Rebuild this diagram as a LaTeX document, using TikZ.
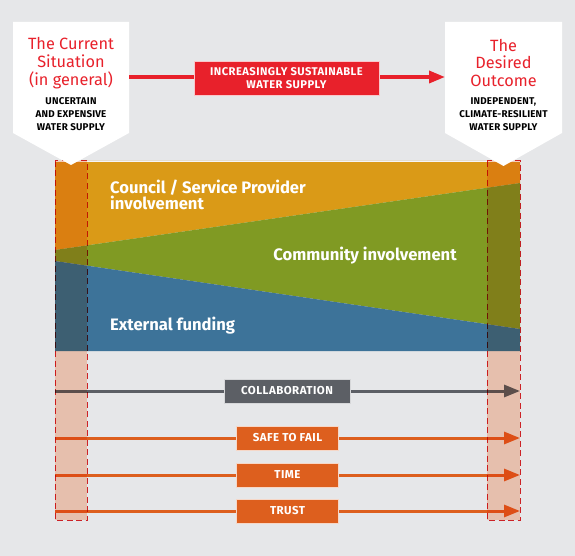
\documentclass[tikz,border=0pt]{standalone}
\usepackage{fontspec}
\setmainfont{Fira Sans}
\usetikzlibrary{arrows.meta}
\definecolor{bg}{HTML}{E6E7E9}
\definecolor{redc}{HTML}{E8212B}
\definecolor{yel}{HTML}{DA9A17}
\definecolor{grn}{HTML}{809A23}
\definecolor{blu}{HTML}{3D7399}
\definecolor{gry}{HTML}{5C5F65}
\definecolor{org}{HTML}{DD5F1E}
\definecolor{colfill}{HTML}{FFD3BE}
\definecolor{dashred}{HTML}{E3262A}
\begin{document}
\begin{tikzpicture}[x=1pt,y=-1pt,
  title/.style={text=redc, font=\fontsize{16.3}{17.7}\selectfont, align=center, inner sep=0pt},
  sub/.style={text=black, font=\bfseries\fontsize{9.8}{13}\selectfont\addfontfeatures{LetterSpace=2}, align=center, inner sep=0pt},
  lab/.style={fill=#1, draw=white!75!#1, line width=0.8pt, text=white, font=\bfseries\fontsize{11.5}{12.5}\selectfont\addfontfeatures{LetterSpace=4}, inner sep=0pt, minimum height=24pt},
  area/.style={text=white, font=\bfseries\fontsize{16.6}{16.7}\selectfont, inner sep=0pt},
  bar/.style={line width=3pt, draw=#1, -{Triangle[length=16pt,width=12pt]}},
  col/.style={fill=colfill, draw=dashred, dash pattern=on 6pt off 3.5pt, line width=1pt},
  callout/.style={fill=white}
]
\useasboundingbox (0,0) rectangle (575,556);
\fill[bg] (0,0) rectangle (575,556);

% coloured areas
\fill[yel] (55,161) -- (520,161) -- (520,183) -- (55,250) -- cycle;
\fill[grn] (55,250) -- (520,183) -- (520,329) -- (55,261) -- cycle;
\fill[blu] (55,261) -- (520,329) -- (520,351) -- (55,351) -- cycle;
\draw[white!60!bg, line width=0.5pt] (55,161) -- (520,161);

\node[area, anchor=west, align=left] (council) at (110,195) {Council / Service Provider\\involvement};
\node[area] (community) at (365,256) {Community involvement};
\node[area, anchor=west] (external) at (110,326) {External funding};

% bottom arrows
\coordinate (cl1) at (55,391);  \coordinate (cr1) at (520,391);
\coordinate (cl2) at (55,438);  \coordinate (cr2) at (520,438);
\coordinate (cl3) at (55,475);  \coordinate (cr3) at (520,475);
\coordinate (cl4) at (55,511);  \coordinate (cr4) at (520,511);
\draw[bar=gry] (cl1) -- (cr1);
\draw[bar=org] (cl2) -- (cr2);
\draw[bar=org] (cl3) -- (cr3);
\draw[bar=org] (cl4) -- (cr4);
\node[lab=gry, minimum width=126pt] (collab) at (287,391) {COLLABORATION};
\node[lab=org, minimum width=102pt] (safe) at (287.5,438) {SAFE TO FAIL};
\node[lab=org, minimum width=102pt] (time) at (287.5,475) {TIME};
\node[lab=org, minimum width=102pt] (trust) at (287.5,511) {TRUST};

% dashed columns
\begin{scope}[blend mode=multiply]
\draw[col] (55,161) rectangle (87,520);
\draw[col] (487,161) rectangle (520,520);
\end{scope}

% callouts
\fill[callout] (13,22) -- (129,22) -- (129,133) -- (71,165) -- (13,133) -- cycle;
\fill[callout] (445,22) -- (562,22) -- (562,133) -- (503.5,166) -- (445,133) -- cycle;
\coordinate (lbox) at (129,77);
\coordinate (rbox) at (445,77);
\draw[line width=3.5pt, draw=redc, -{Triangle[length=16pt,width=12pt]}] (lbox) -- (rbox);
\node[fill=redc, draw=white!75!redc, line width=0.8pt, minimum width=185pt, minimum height=34pt, inner sep=0pt, text=white, align=center, font=\bfseries\fontsize{11.2}{12.7}\selectfont\addfontfeatures{LetterSpace=4}] (sust) at (286.5,78) {INCREASINGLY SUSTAINABLE\\WATER SUPPLY};

\node[title] (cur) at (71,63) {The Current\\Situation\\(in general)};
\node[sub] (cursub) at (71,114) {UNCERTAIN\\AND EXPENSIVE\\WATER SUPPLY};
\node[title] (des) at (503.5,63) {The\\Desired\\Outcome};
\node[sub] (dessub) at (503.5,114) {INDEPENDENT,\\CLIMATE-RESILIENT\\WATER SUPPLY};
\end{tikzpicture}
\end{document}
